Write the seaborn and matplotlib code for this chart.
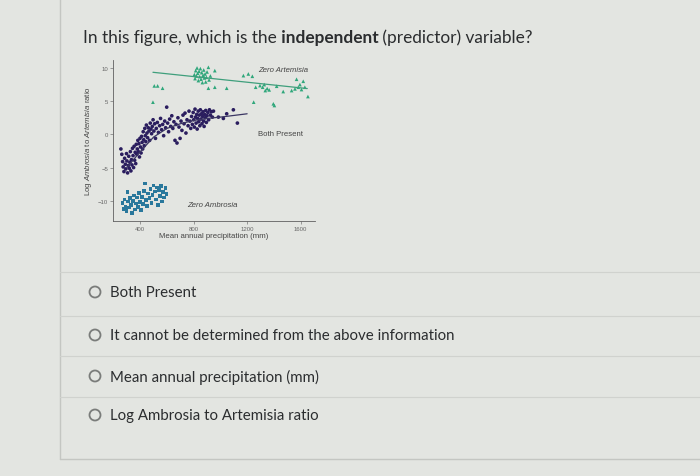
import pandas as pd
import seaborn as sns
import matplotlib.pyplot as plt
from matplotlib.patches import Circle

# values
both_x = [255, 262, 268, 272, 278, 283, 288, 292, 297, 300, 305, 310, 314, 318, 322,
          326, 330, 334, 338, 342, 346, 350, 354, 358, 362, 366, 370, 374, 378, 382,
          386, 390, 394, 398, 402, 406, 410, 414, 418, 422, 426, 430, 434, 438, 442,
          446, 450, 455, 460, 465, 470, 475, 480, 485, 490, 496, 502, 508, 514, 520,
          528, 536, 545, 552, 560, 568, 575, 583, 590, 598, 605, 612, 620, 628, 636,
          644, 652, 660, 668, 675, 682, 690, 698, 705, 712, 720, 728, 735, 742, 750,
          758, 765, 772, 778, 784, 790, 796, 800, 805, 810, 814, 818, 822, 826, 830,
          834, 838, 842, 846, 850, 854, 858, 862, 866, 870, 874, 878, 882, 886, 890,
          895, 900, 906, 912, 918, 925, 932, 940, 948, 985, 1022, 1047, 1097, 1127]
both_y = [-2.2, -3.0, -4.1, -4.9, -5.6, -3.6, -4.5, -5.2, -2.9, -4.0, -5.8, -4.7, -3.3, -5.1, -4.2,
          -2.6, -5.5, -3.8, -4.6, -2.1, -3.2, -5.0, -1.8, -3.9, -2.7, -4.4, -1.5, -3.0, -2.2, -0.9,
          -2.6, -1.4, -3.4, -0.6, -1.9, -2.8, -0.3, -1.2, -2.2, 0.4, -0.8, -1.7, 0.9, -0.2, -1.1,
          1.4, 0.2, -0.5, 1.0, 0.5, -0.9, 1.7, 0.8, 0.1, 1.2, 2.2, 0.5, 1.6, -0.6, 0.9,
          1.8, 0.3, 1.3, 2.4, 0.7, 1.5, -0.2, 2.0, 1.0, 4.1, 1.7, 0.4, 2.3, 1.2, 2.8,
          0.9, 1.9, -0.9, 1.5, -1.3, 2.5, 1.1, -0.6, 2.0, 0.6, 2.9, 1.6, 3.2, 0.2, 2.2,
          1.3, 3.5, 2.0, 0.9, 2.7, 1.5, 3.3, 2.2, 1.1, 3.8, 2.6, 1.7, 3.0, 0.8, 2.4,
          3.5, 1.9, 2.9, 1.3, 3.7, 2.3, 3.1, 1.6, 2.7, 3.4, 2.0, 1.2, 3.0, 2.5, 3.6,
          1.8, 2.8, 3.3, 2.2, 3.7, 2.9, 3.4, 2.6, 3.5, 2.6, 2.4, 3.1, 3.7, 1.7]

ambr_x = [268, 275, 282, 290, 298, 305, 310, 318, 325, 332, 340, 348, 355, 362, 370,
          378, 385, 392, 400, 408, 415, 422, 430, 437, 444, 452, 460, 468, 476, 484,
          492, 500, 508, 516, 524, 532, 540, 548, 556, 564, 572, 580, 588, 596]
ambr_y = [-10.3, -11.2, -9.8, -10.9, -11.5, -8.7, -10.1, -11.0, -9.6, -10.6, -11.8, -10.0, -9.2, -11.3, -10.4,
          -9.5, -10.9, -8.8, -10.2, -11.4, -9.4, -10.5, -8.5, -7.4, -9.9, -10.8, -8.9, -9.6, -8.2, -10.3,
          -9.1, -7.7, -8.6, -9.8, -8.0, -10.6, -8.4, -9.3, -7.8, -10.1, -8.7, -9.5, -8.1, -9.0]

arte_x = [805, 810, 815, 820, 825, 830, 835, 840, 845, 850, 855, 860, 865, 870, 875,
          880, 885, 890, 895, 900, 910, 915, 925,
          495, 505, 530, 567, 910, 958, 958, 1047, 1172, 1209, 1239, 1264, 1249, 1296,
          1316, 1328, 1336, 1350, 1365, 1396, 1404, 1421, 1470, 1533, 1558, 1570, 1583,
          1595, 1607, 1620, 1632, 1655]
arte_y = [9.0, 8.4, 9.6, 8.8, 10.0, 9.2, 8.1, 9.5, 8.7, 9.9, 8.3, 9.3, 7.8, 8.9, 9.7,
          8.5, 9.1, 7.9, 8.6, 9.4, 10.1, 8.2, 8.8,
          4.85, 7.3, 7.3, 6.95, 6.95, 9.6, 7.1, 6.95, 8.85, 9.1, 8.75, 7.1, 4.85, 7.35,
          7.1, 7.5, 6.6, 6.9, 6.7, 4.6, 4.35, 7.25, 6.45, 6.6, 6.85, 8.3, 7.1,
          7.5, 6.75, 8.0, 7.1, 5.7]

loess_x = [300, 400, 500, 600, 700, 800, 900, 1000, 1100, 1200]
loess_y = [-5.0, -2.6, -0.4, 0.9, 1.6, 2.1, 2.4, 2.6, 2.85, 3.1]
fit_x = [495, 1650]
fit_y = [9.35, 6.9]

x_ticks = [400, 800, 1200, 1600]
y_ticks = [-10, -5, 0, 5, 10]

question = ["In this figure, which is the", " independent", " (predictor) variable?"]
question_bold = [False, True, False]
options = ["Both Present",
           "It cannot be determined from the above information",
           "Mean annual precipitation (mm)",
           "Log Ambrosia to Artemisia ratio"]

df = pd.DataFrame({
    "precip": both_x + ambr_x + arte_x,
    "ratio": both_y + ambr_y + arte_y,
    "group": ["Both Present"] * len(both_x) + ["Zero Ambrosia"] * len(ambr_x)
             + ["Zero Artemisia"] * len(arte_x),
})

bg_col = "#e3e5e1"
txt_col = "#2b2d2f"

sns.set_style("ticks")
plt.rcParams["font.family"] = ["Liberation Sans", "DejaVu Sans"]
plt.rcParams["mathtext.fontset"] = "custom"
plt.rcParams["mathtext.it"] = "Liberation Sans:italic"
plt.rcParams["mathtext.rm"] = "Liberation Sans"

fig = plt.figure(figsize=(7, 4.77), dpi=100, facecolor=bg_col)

# page layer in pixel units
page = fig.add_axes([0, 0, 1, 1], zorder=0)
page.set_xlim(0, 700)
page.set_ylim(477, 0)
page.axis("off")
page.plot([60, 60], [0, 460], color="#c4c6c2", lw=1)
page.plot([60, 700], [460, 460], color="#c4c6c2", lw=1)
for y in [273, 317, 357, 398]:
    page.plot([60, 700], [y, y], color="#d0d2ce", lw=0.8)

prev = None
for part, bold in zip(question, question_bold):
    kw = dict(fontsize=12.4, family="Lato", color=txt_col,
              fontweight="bold" if bold else "normal", va="bottom", ha="left")
    if prev is None:
        prev = page.text(83, 46, part, **kw)
    else:
        prev = page.annotate(part, xy=(1, 0), xycoords=prev, **kw)

opt_y = [293, 336, 377, 416]
for y, label in zip(opt_y, options):
    page.add_patch(Circle((95, y), 5.5, fill=False, ec="#7a7c7a", lw=1.3))
    page.text(110, y, label, fontsize=10.8, family="Lato", color=txt_col,
              va="center", ha="left")

# the small scatter figure
ax = fig.add_axes([113 / 700, 1 - 221.7 / 477, 202 / 700, 160.7 / 477], zorder=1)
ax.set_facecolor("none")
sns.lineplot(x=loess_x, y=loess_y, color="#3b3663", lw=0.9, ax=ax)
sns.lineplot(x=fit_x, y=fit_y, color="#3f9f7c", lw=0.9, ax=ax)
sns.scatterplot(data=df, x="precip", y="ratio", hue="group", style="group",
                markers={"Both Present": "o", "Zero Ambrosia": "s", "Zero Artemisia": "^"},
                palette={"Both Present": "#2a1d5e", "Zero Ambrosia": "#2a789c",
                         "Zero Artemisia": "#2fa77b"},
                s=7, linewidth=0, legend=False, ax=ax)

ax.set_xlim(196, 1708)
ax.set_ylim(-13, 11.2)
ax.set_xticks(x_ticks)
ax.set_yticks(y_ticks)
ax.tick_params(labelsize=4.3, length=2, width=0.5, pad=1.5, colors="#777777",
               labelcolor="#666666")
for s in ["top", "right"]:
    ax.spines[s].set_visible(False)
for s in ["left", "bottom"]:
    ax.spines[s].set_color("#606060")
    ax.spines[s].set_linewidth(0.6)
ax.set_xlabel("Mean annual precipitation (mm)", fontsize=5.6, color="#444444", labelpad=1)
ax.set_ylabel(r"Log $\it{Ambrosia}$ to $\it{Artemisia}$ ratio", fontsize=5.6,
              color="#444444", labelpad=3)

ax.text(1470, 9.7, "Zero Artemisia", fontsize=5.6, style="italic", color="#444444",
        ha="center", va="center")
ax.text(1450, 0.1, "Both Present", fontsize=5.6, color="#444444", ha="center", va="center")
ax.text(940, -10.5, "Zero Ambrosia", fontsize=5.6, style="italic", color="#444444",
        ha="center", va="center")

fig.savefig("out.png", dpi=100, facecolor=bg_col)
